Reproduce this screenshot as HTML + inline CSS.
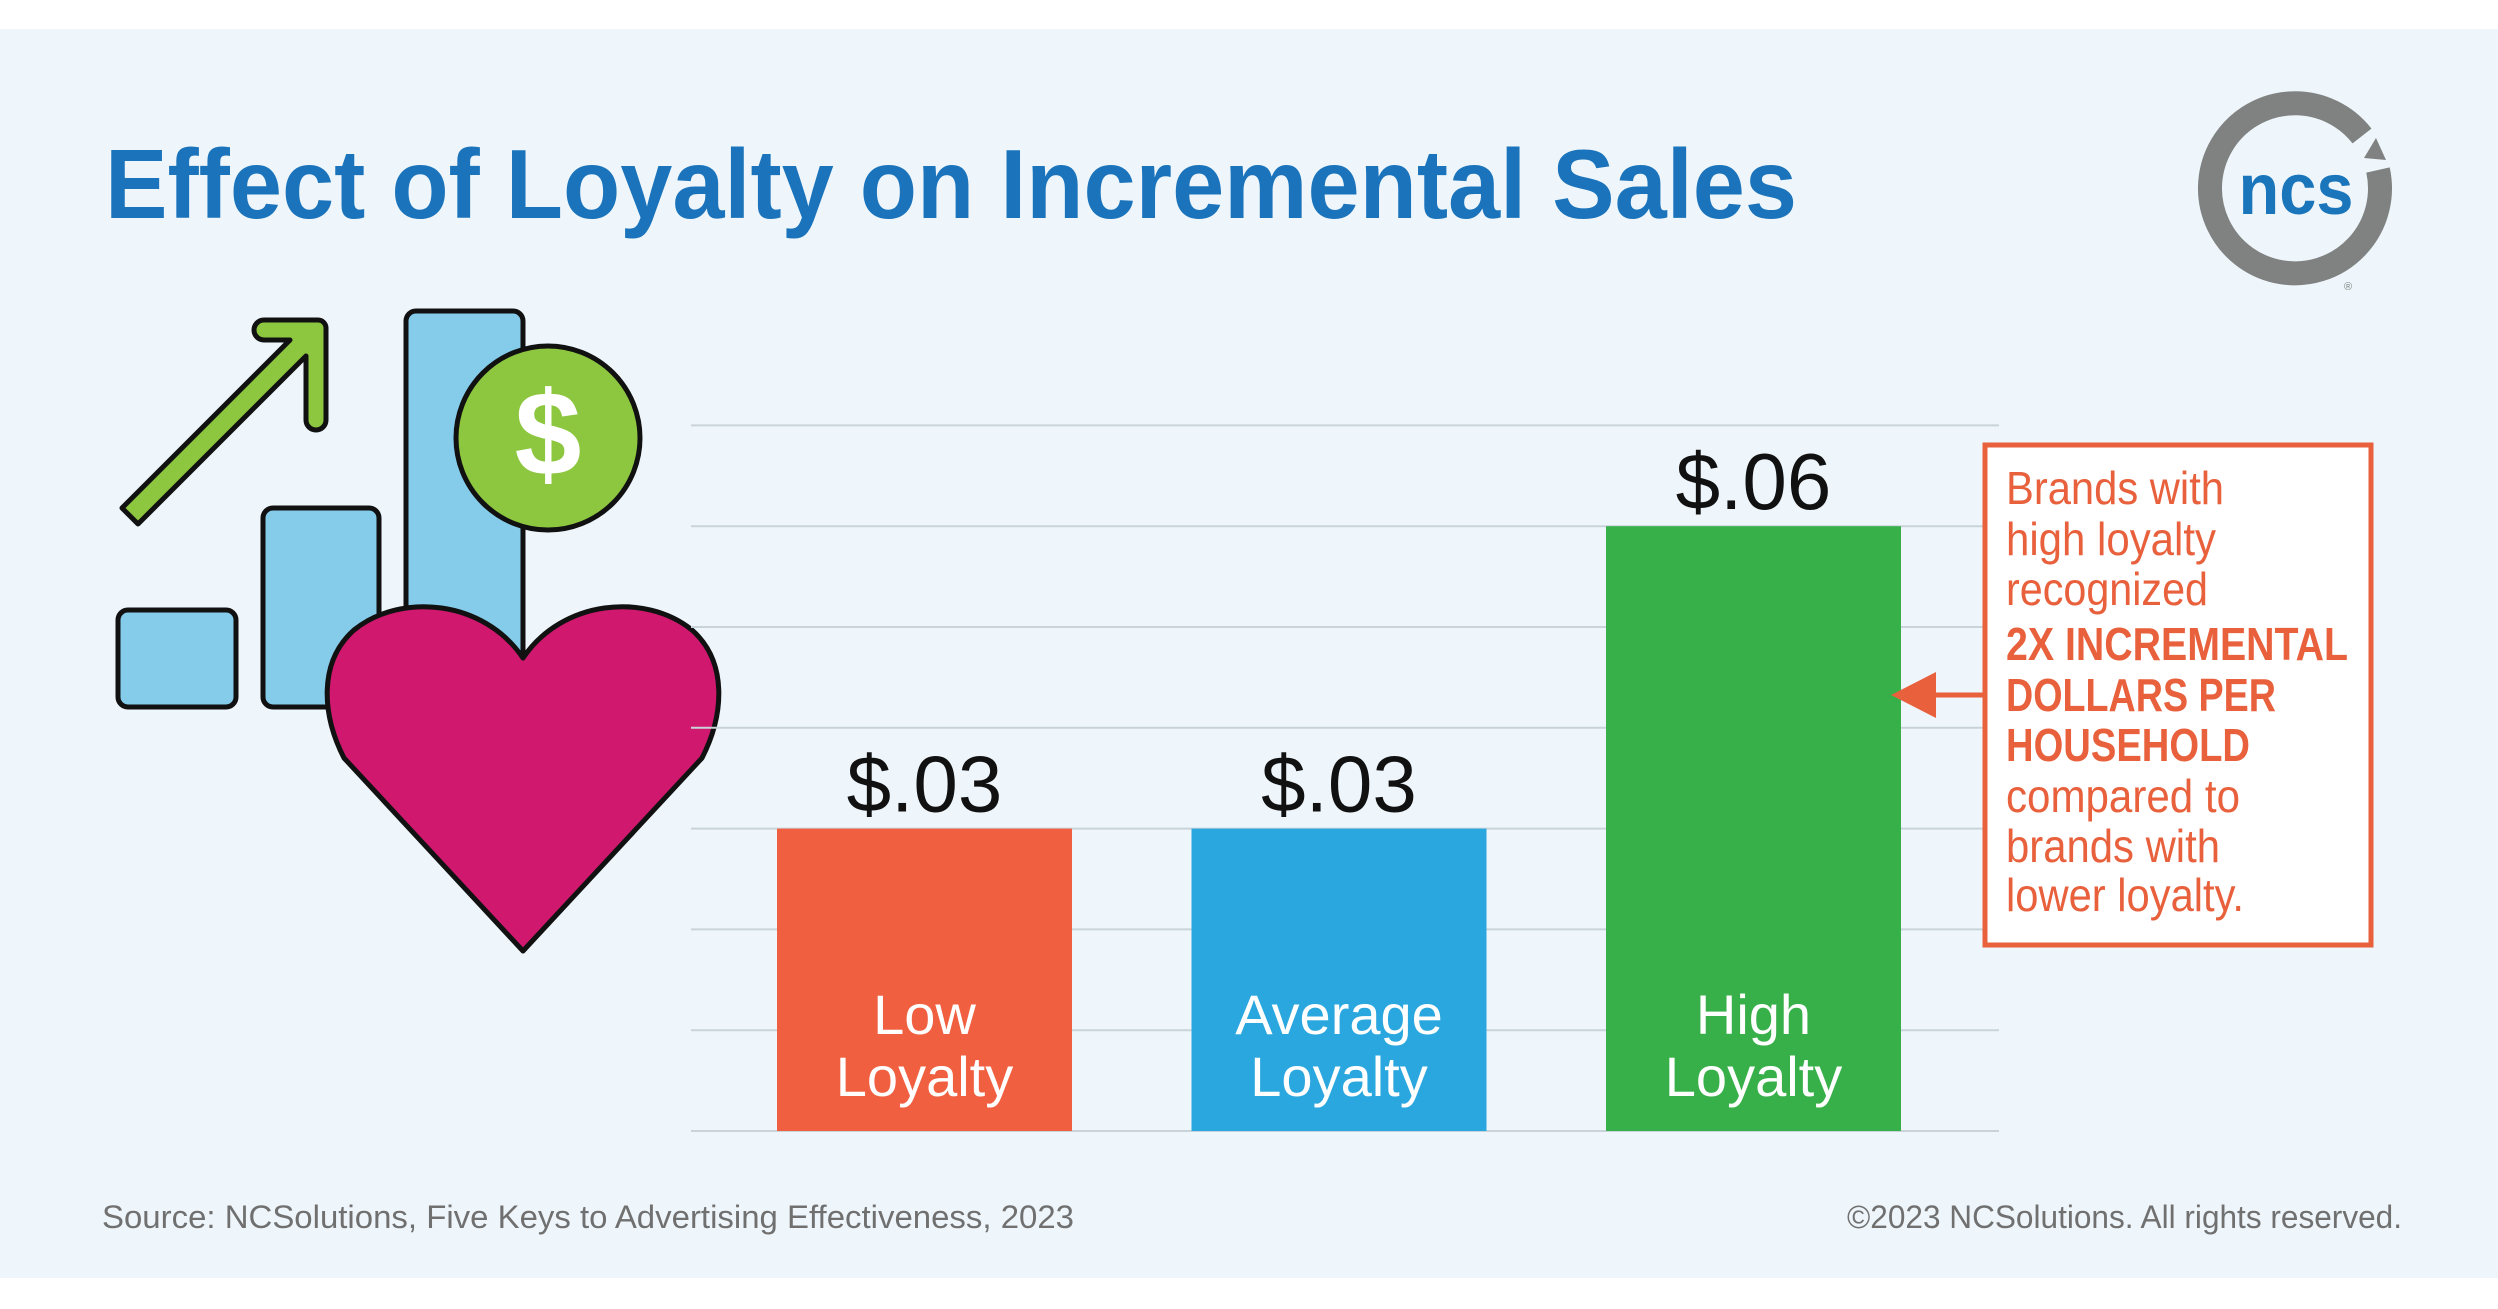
<!DOCTYPE html>
<html><head><meta charset="utf-8"><style>
html,body{margin:0;padding:0;background:#fff}
svg{display:block}
text{font-family:"Liberation Sans",sans-serif}
</style></head><body>
<svg width="2498" height="1309" viewBox="0 0 2498 1309">
<rect x="0" y="29" width="2498" height="1249" fill="#eef6fb"/>
<text x="105" y="218" font-size="98" font-weight="bold" fill="#1b74bb" textLength="1692" lengthAdjust="spacingAndGlyphs">Effect of Loyalty on Incremental Sales</text>

<g>
<path d="M2362,136 A85,85 0 1 0 2378,170" fill="none" stroke="#7f8281" stroke-width="24"/>
<polygon points="2376,138 2386,160 2364,158" fill="#7f8281"/>
<text x="2296" y="214" font-size="72" font-weight="bold" fill="#1a75bb" text-anchor="middle" textLength="115" lengthAdjust="spacingAndGlyphs">ncs</text>
<text x="2344" y="290" font-size="11" fill="#7f8281">®</text>
</g>

<g stroke="#111" stroke-width="5" stroke-linejoin="round">
<rect x="118" y="610" width="118" height="97" rx="10" fill="#85cbea"/>
<rect x="263" y="508" width="116" height="199" rx="10" fill="#85cbea"/>
<rect x="406" y="311" width="117" height="396" rx="10" fill="#85cbea"/>
<path d="M122,508 L290,340 L264,340 A10,10 0 0 1 264,320 L318,320 A8,8 0 0 1 326,328 L326,420 A10,10 0 0 1 306,420 L306,356 L138,524 Z" fill="#8dc63f"/>
<circle cx="548" cy="438" r="92" fill="#8dc63f"/>
<text x="548" y="475" font-size="120" font-weight="bold" fill="#fff" stroke="none" text-anchor="middle">$</text>
<path d="M523,658 C562,600 645,592 692,630 C728,662 724,715 702,758 L523,951 L344,758 C322,715 318,662 354,630 C401,592 484,600 523,658 Z" fill="#d0186e"/>
</g>

<g id="grid"></g>
<g id="bars"></g>

<g>
<line x1="1983" y1="695" x2="1930" y2="695" stroke="#e8603c" stroke-width="5"/>
<polygon points="1891,695 1936,672 1936,718" fill="#e8603c"/>
<rect x="1985" y="445" width="386" height="500" fill="#fff" stroke="#e8603c" stroke-width="5"/>
<g font-size="46" fill="#e8603c">
<text x="2006" y="504" textLength="218" lengthAdjust="spacingAndGlyphs">Brands with</text>
<text x="2006" y="555" textLength="210" lengthAdjust="spacingAndGlyphs">high loyalty</text>
<text x="2006" y="605" textLength="202" lengthAdjust="spacingAndGlyphs">recognized</text>
<text x="2006" y="660" font-weight="bold" textLength="342" lengthAdjust="spacingAndGlyphs">2X INCREMENTAL</text>
<text x="2006" y="711" font-weight="bold" textLength="270" lengthAdjust="spacingAndGlyphs">DOLLARS PER</text>
<text x="2006" y="761" font-weight="bold" textLength="244" lengthAdjust="spacingAndGlyphs">HOUSEHOLD</text>
<text x="2006" y="812" textLength="234" lengthAdjust="spacingAndGlyphs">compared to</text>
<text x="2006" y="862" textLength="214" lengthAdjust="spacingAndGlyphs">brands with</text>
<text x="2006" y="911" textLength="238" lengthAdjust="spacingAndGlyphs">lower loyalty.</text>
</g>
</g>

<text x="102" y="1228" font-size="32" fill="#707070" textLength="972" lengthAdjust="spacingAndGlyphs">Source: NCSolutions, Five Keys to Advertising Effectiveness, 2023</text>
<text x="2402" y="1228" font-size="32" fill="#707070" text-anchor="end" textLength="555" lengthAdjust="spacingAndGlyphs">©2023 NCSolutions. All rights reserved.</text>

<script>
const categories = ["Low Loyalty", "Average Loyalty", "High Loyalty"];
const values = [0.03, 0.03, 0.06];
const valueLabels = ["$.03", "$.03", "$.06"];
const gridTicks = [0, 0.01, 0.02, 0.03, 0.04, 0.05, 0.06, 0.07];
const NS = "http://www.w3.org/2000/svg";
const plotL = 691, plotR = 1999, y0 = 1131, pxPerUnit = 10080;
const barW = 295, firstCenter = 924.5, step = 414.5;
const colors = ["#f05f3f", "#2aa7de", "#38b04a"];
function yScale(v){ return y0 - v * pxPerUnit; }
function xCenter(i){ return firstCenter + i * step; }
const grid = document.getElementById("grid");
gridTicks.forEach(t => {
  const l = document.createElementNS(NS, "line");
  l.setAttribute("x1", plotL); l.setAttribute("x2", plotR);
  l.setAttribute("y1", yScale(t)); l.setAttribute("y2", yScale(t));
  l.setAttribute("stroke", "#c9d3da"); l.setAttribute("stroke-width", "2");
  
  
  grid.appendChild(l);
});
const bars = document.getElementById("bars");
categories.forEach((c, i) => {
  const cx = xCenter(i), top = yScale(values[i]);
  const r = document.createElementNS(NS, "rect");
  r.setAttribute("x", cx - barW/2); r.setAttribute("y", top);
  r.setAttribute("width", barW); r.setAttribute("height", y0 - top);
  r.setAttribute("fill", colors[i]);
  
  
  bars.appendChild(r);
  const v = document.createElementNS(NS, "text");
  v.setAttribute("x", cx); v.setAttribute("y", top - 17);
  v.setAttribute("text-anchor", "middle"); v.setAttribute("font-size", "80");
  v.setAttribute("fill", "#111");
  v.textContent = valueLabels[i];
  
  
  bars.appendChild(v);
  const words = c.split(" ");
  words.forEach((w, k) => {
    const t = document.createElementNS(NS, "text");
    t.setAttribute("x", cx); t.setAttribute("y", 1034 + k * 62);
    t.setAttribute("text-anchor", "middle"); t.setAttribute("font-size", "56");
    t.setAttribute("fill", "#fff");
    t.textContent = w;
    
    
    bars.appendChild(t);
  });
});
</script>
</svg>
</body></html>
